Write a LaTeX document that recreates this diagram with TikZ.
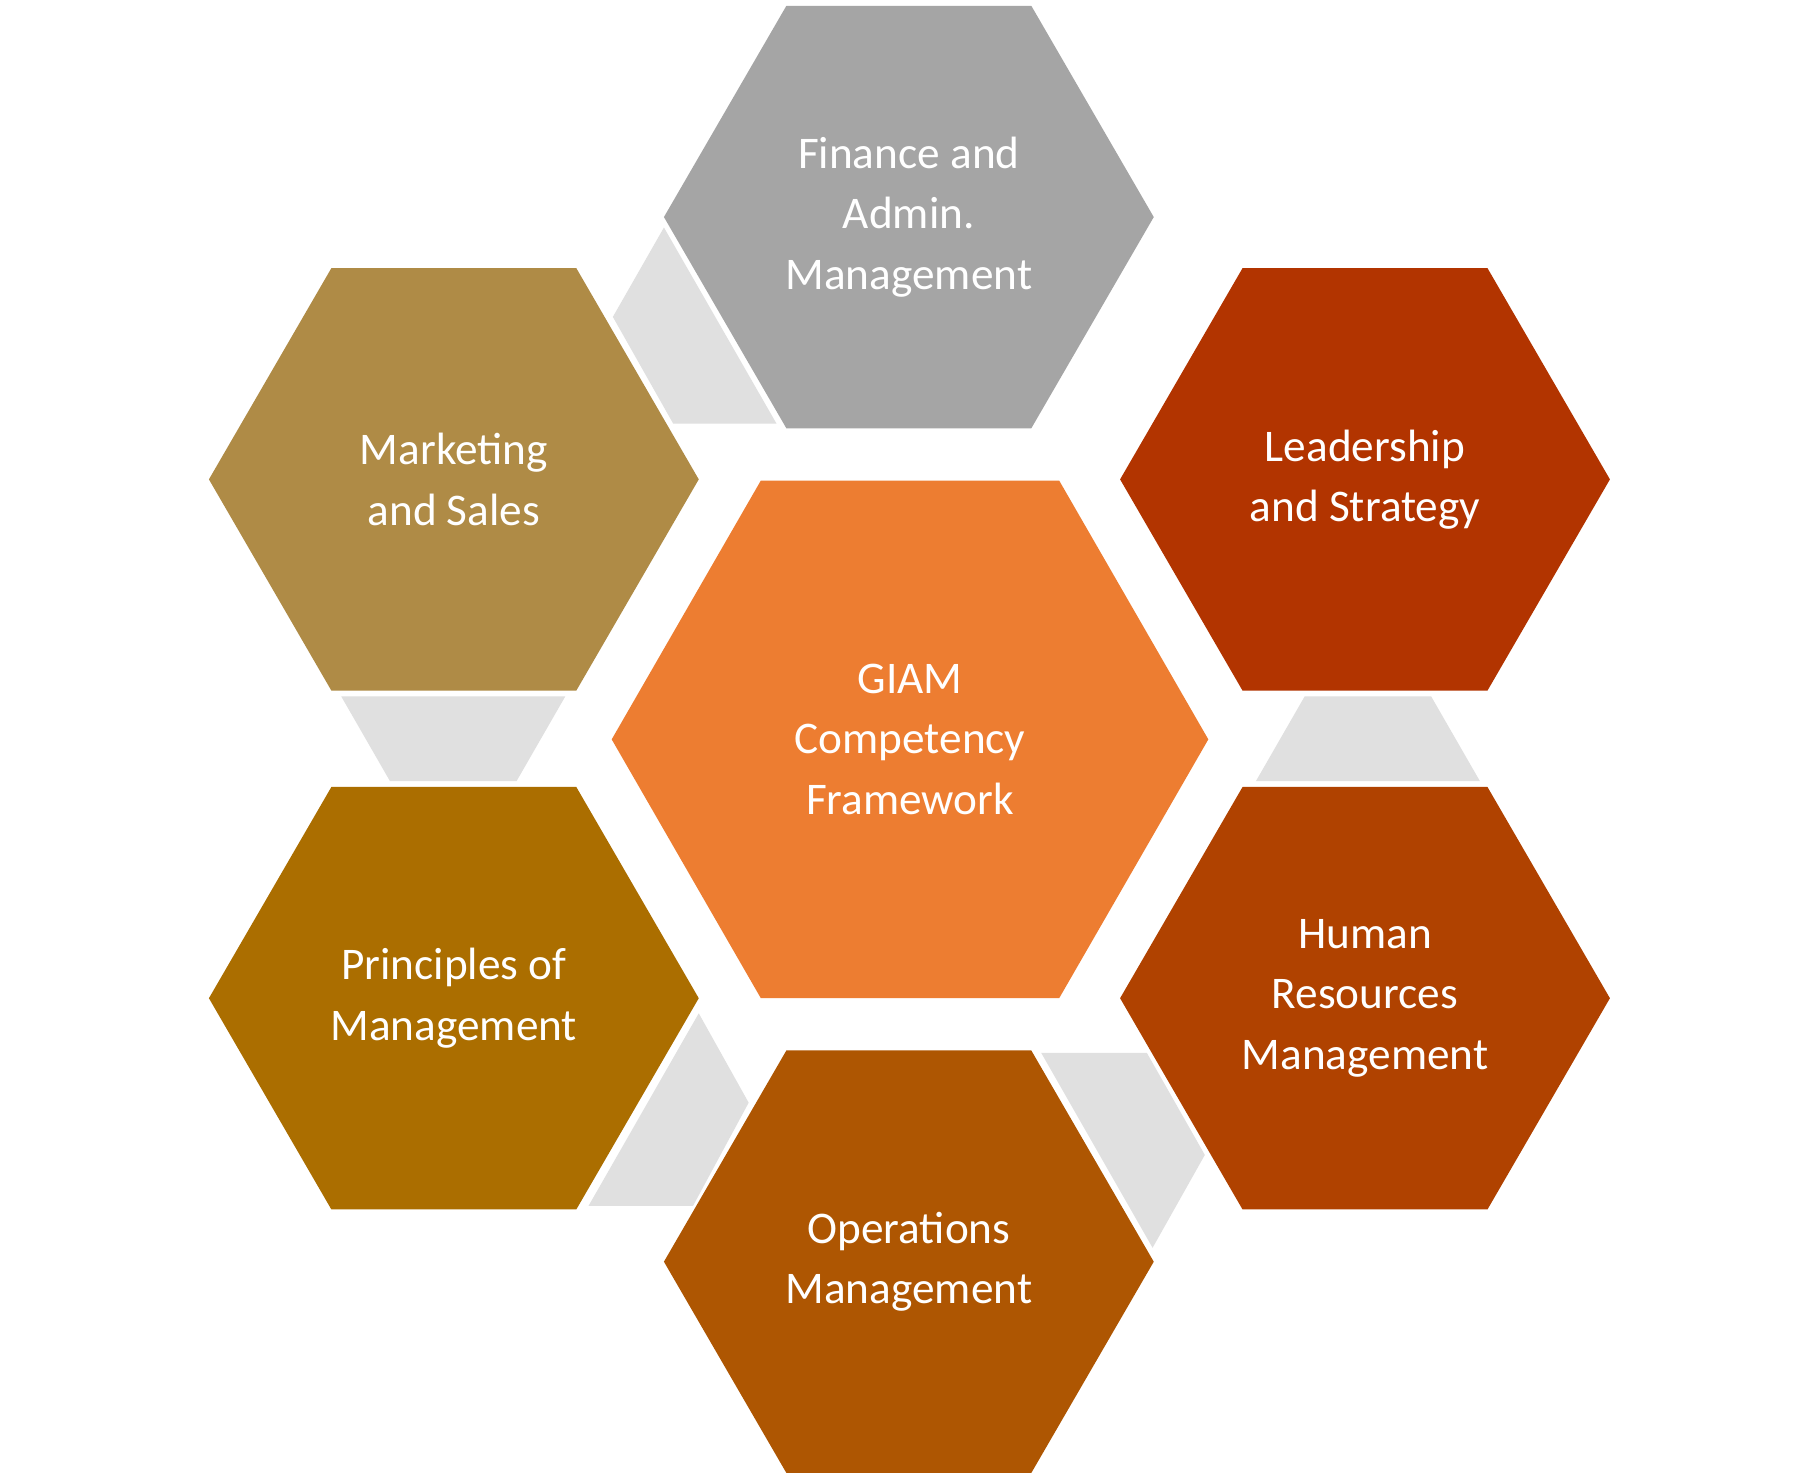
\documentclass[tikz,border=0pt]{standalone}
\usepackage{fontspec}
\setmainfont{Carlito}
\definecolor{cCenter}{HTML}{ED7D31}
\definecolor{cFin}{HTML}{A5A5A5}
\definecolor{cMkt}{HTML}{AF8B46}
\definecolor{cLead}{HTML}{B23400}
\definecolor{cHR}{HTML}{B04200}
\definecolor{cOps}{HTML}{AE5602}
\definecolor{cPrin}{HTML}{AB6E00}
\definecolor{cLink}{HTML}{E0E0E0}
\newcommand\hexshape[5]{% x y hw hh color
  \fill[#5] (#1-#3,#2) -- (#1-#3/2,#2-#4) -- (#1+#3/2,#2-#4) -- (#1+#3,#2) -- (#1+#3/2,#2+#4) -- (#1-#3/2,#2+#4) -- cycle;}
\tikzset{lbl/.style={text=white,align=center,font=\fontsize{39}{52}\selectfont}}
\begin{document}
\begin{tikzpicture}[x=1pt,y=-1pt]
\useasboundingbox[fill=white] (0,0) rectangle (1568,1276);
% links
\fill[cLink] (294,600) -- (487,600) -- (445,673) -- (336,673) -- cycle;
\fill[cLink] (1124,600) -- (1233,600) -- (1275,673) -- (1082,673) -- cycle;
\fill[cLink] (572,196) -- (669,365) -- (580,365) -- (528,273) -- cycle;
\fill[cLink] (602,873) -- (645,950) -- (597,1039) -- (507,1039) -- cycle;
\fill[cLink] (897,907) -- (988,907) -- (1038,995) -- (993,1075) -- cycle;
% hexagons
\hexshape{784}{637}{257}{223}{cCenter}
\hexshape{783}{187}{211}{182}{cFin}
\hexshape{391}{413}{211}{182}{cMkt}
\hexshape{1176}{413}{211}{182}{cLead}
\hexshape{391}{860}{211}{182}{cPrin}
\hexshape{1176}{860}{211}{182}{cHR}
\hexshape{783}{1087}{211}{182}{cOps}
% labels
\node[lbl] (center) at (784,637) {GIAM\\Competency\\Framework};
\node[lbl] (fin) at (783,187) {Finance and\\Admin.\\Management};
\node[lbl] (mkt) at (391,413) {Marketing\\and Sales};
\node[lbl] (lead) at (1176,413) {Leadership\\and Strategy};
\node[lbl] (prin) at (391,860) {Principles of\\Management};
\node[lbl] (hr) at (1176,860) {Human\\Resources\\Management};
\node[lbl] (ops) at (783,1087) {Operations\\Management};
\end{tikzpicture}
\end{document}
